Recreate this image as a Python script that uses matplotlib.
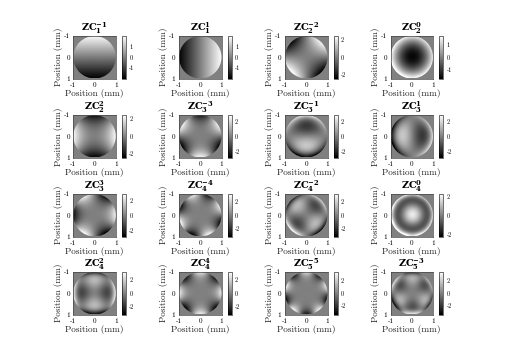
import matplotlib
matplotlib.use('Agg')
import matplotlib.pyplot as plt
from matplotlib.patches import Circle
import numpy as np

plt.rcParams['font.family'] = ['cmr10', 'DejaVu Serif']
plt.rcParams['mathtext.fontset'] = 'dejavuserif'
plt.rcParams['axes.formatter.use_mathtext'] = True

# values, rows run y=-1..1, columns x=-1..1, step 0.2
zc_1_m1 = [[2.0]*11, [1.6]*11, [1.2]*11, [0.8]*11, [0.4]*11, [0.0]*11,
           [-0.4]*11, [-0.8]*11, [-1.2]*11, [-1.6]*11, [-2.0]*11]
zc_1_p1 = [[-2, -1.6, -1.2, -0.8, -0.4, 0, 0.4, 0.8, 1.2, 1.6, 2]]*11
zc_2_m2 = [
    [-4.9, -3.9, -2.9, -2, -1, 0, 1, 2, 2.9, 3.9, 4.9],
    [-3.9, -3.1, -2.4, -1.6, -.8, 0, .8, 1.6, 2.4, 3.1, 3.9],
    [-2.9, -2.4, -1.8, -1.2, -.6, 0, .6, 1.2, 1.8, 2.4, 2.9],
    [-2, -1.6, -1.2, -.8, -.4, 0, .4, .8, 1.2, 1.6, 2],
    [-1, -.8, -.6, -.4, -.2, 0, .2, .4, .6, .8, 1],
    [0, 0, 0, 0, 0, 0, 0, 0, 0, 0, 0],
    [1, .8, .6, .4, .2, 0, -.2, -.4, -.6, -.8, -1],
    [2, 1.6, 1.2, .8, .4, 0, -.4, -.8, -1.2, -1.6, -2],
    [2.9, 2.4, 1.8, 1.2, .6, 0, -.6, -1.2, -1.8, -2.4, -2.9],
    [3.9, 3.1, 2.4, 1.6, .8, 0, -.8, -1.6, -2.4, -3.1, -3.9],
    [4.9, 3.9, 2.9, 2, 1, 0, -1, -2, -2.9, -3.9, -4.9]]
zc_2_p0 = [
    [5.2, 3.9, 3, 2.3, 1.9, 1.7, 1.9, 2.3, 3, 3.9, 5.2],
    [3.9, 2.7, 1.7, 1, .6, .5, .6, 1, 1.7, 2.7, 3.9],
    [3, 1.7, .8, .1, -.3, -.5, -.3, .1, .8, 1.7, 3],
    [2.3, 1, .1, -.6, -1, -1.2, -1, -.6, .1, 1, 2.3],
    [1.9, .6, -.3, -1, -1.5, -1.6, -1.5, -1, -.3, .6, 1.9],
    [1.7, .5, -.5, -1.2, -1.6, -1.7, -1.6, -1.2, -.5, .5, 1.7],
    [1.9, .6, -.3, -1, -1.5, -1.6, -1.5, -1, -.3, .6, 1.9],
    [2.3, 1, .1, -.6, -1, -1.2, -1, -.6, .1, 1, 2.3],
    [3, 1.7, .8, .1, -.3, -.5, -.3, .1, .8, 1.7, 3],
    [3.9, 2.7, 1.7, 1, .6, .5, .6, 1, 1.7, 2.7, 3.9],
    [5.2, 3.9, 3, 2.3, 1.9, 1.7, 1.9, 2.3, 3, 3.9, 5.2]]
zc_2_p2 = [
    [0, -.9, -1.6, -2.1, -2.4, -2.45, -2.4, -2.1, -1.6, -.9, 0],
    [.9, 0, -.7, -1.2, -1.5, -1.6, -1.5, -1.2, -.7, 0, .9],
    [1.6, .7, 0, -.5, -.8, -.9, -.8, -.5, 0, .7, 1.6],
    [2.1, 1.2, .5, 0, -.3, -.4, -.3, 0, .5, 1.2, 2.1],
    [2.4, 1.5, .8, .3, 0, -.1, 0, .3, .8, 1.5, 2.4],
    [2.45, 1.6, .9, .4, .1, 0, .1, .4, .9, 1.6, 2.45],
    [2.4, 1.5, .8, .3, 0, -.1, 0, .3, .8, 1.5, 2.4],
    [2.1, 1.2, .5, 0, -.3, -.4, -.3, 0, .5, 1.2, 2.1],
    [1.6, .7, 0, -.5, -.8, -.9, -.8, -.5, 0, .7, 1.6],
    [.9, 0, -.7, -1.2, -1.5, -1.6, -1.5, -1.2, -.7, 0, .9],
    [0, -.9, -1.6, -2.1, -2.4, -2.45, -2.4, -2.1, -1.6, -.9, 0]]
zc_3_m3 = [
    [5.7, 2.6, .2, -1.5, -2.5, -2.8, -2.5, -1.5, .2, 2.6, 5.7],
    [5.3, 2.9, 1, -.4, -1.2, -1.4, -1.2, -.4, 1, 2.9, 5.3],
    [4.5, 2.6, 1.2, .2, -.4, -.6, -.4, .2, 1.2, 2.6, 4.5],
    [3.2, 2, 1, .4, 0, -.2, 0, .4, 1, 2, 3.2],
    [1.7, 1.1, .6, .2, 0, 0, 0, .2, .6, 1.1, 1.7],
    [0, 0, 0, 0, 0, 0, 0, 0, 0, 0, 0],
    [-1.7, -1.1, -.6, -.2, 0, 0, 0, -.2, -.6, -1.1, -1.7],
    [-3.2, -2, -1, -.4, 0, .2, 0, -.4, -1, -2, -3.2],
    [-4.5, -2.6, -1.2, -.2, .4, .6, .4, -.2, -1.2, -2.6, -4.5],
    [-5.3, -2.9, -1, .4, 1.2, 1.4, 1.2, .4, -1, -2.9, -5.3],
    [-5.7, -2.6, -.2, 1.5, 2.5, 2.8, 2.5, 1.5, -.2, -2.6, -5.7]]
zc_3_m1 = [
    [6, 6, 5.9, 4.2, 3.2, 2.8, 3.2, 4.2, 5.9, 6, 6],
    [6, 4.2, 2.3, .9, .1, -.2, .1, .9, 2.3, 4.2, 6],
    [3.5, 1.7, .3, -.7, -1.4, -1.6, -1.4, -.7, .3, 1.7, 3.5],
    [1.7, .5, -.5, -1.2, -1.6, -1.7, -1.6, -1.2, -.5, .5, 1.7],
    [.6, 0, -.5, -.8, -1, -1.1, -1, -.8, -.5, 0, .6],
    [0, 0, 0, 0, 0, 0, 0, 0, 0, 0, 0],
    [-.6, 0, .5, .8, 1, 1.1, 1, .8, .5, 0, -.6],
    [-1.7, -.5, .5, 1.2, 1.6, 1.7, 1.6, 1.2, .5, -.5, -1.7],
    [-3.5, -1.7, -.3, .7, 1.4, 1.6, 1.4, .7, -.3, -1.7, -3.5],
    [-6, -4.2, -2.3, -.9, -.1, .2, -.1, -.9, -2.3, -4.2, -6],
    [-6, -6, -5.9, -4.2, -3.2, -2.8, -3.2, -4.2, -5.9, -6, -6]]
zc_3_p1 = [
    [-6, -6, -3.5, -1.7, -.6, 0, .6, 1.7, 3.5, 6, 6],
    [-6, -4.2, -1.7, -.5, 0, 0, 0, .5, 1.7, 4.2, 6],
    [-5.9, -2.3, -.3, .5, .5, 0, -.5, -.5, .3, 2.3, 5.9],
    [-4.2, -.9, .7, 1.2, .8, 0, -.8, -1.2, -.7, .9, 4.2],
    [-3.2, -.1, 1.4, 1.6, 1, 0, -1, -1.6, -1.4, .1, 3.2],
    [-2.8, .2, 1.6, 1.7, 1.1, 0, -1.1, -1.7, -1.6, -.2, 2.8],
    [-3.2, -.1, 1.4, 1.6, 1, 0, -1, -1.6, -1.4, .1, 3.2],
    [-4.2, -.9, .7, 1.2, .8, 0, -.8, -1.2, -.7, .9, 4.2],
    [-5.9, -2.3, -.3, .5, .5, 0, -.5, -.5, .3, 2.3, 5.9],
    [-6, -4.2, -1.7, -.5, 0, 0, 0, .5, 1.7, 4.2, 6],
    [-6, -6, -3.5, -1.7, -.6, 0, .6, 1.7, 3.5, 6, 6]]
zc_3_p3 = [
    [5.7, 5.3, 4.5, 3.2, 1.7, 0, -1.7, -3.2, -4.5, -5.3, -5.7],
    [2.6, 2.9, 2.6, 2, 1.1, 0, -1.1, -2, -2.6, -2.9, -2.6],
    [.2, 1, 1.2, 1, .6, 0, -.6, -1, -1.2, -1, -.2],
    [-1.5, -.4, .2, .4, .2, 0, -.2, -.4, -.2, .4, 1.5],
    [-2.5, -1.2, -.4, 0, 0, 0, 0, 0, .4, 1.2, 2.5],
    [-2.8, -1.4, -.6, -.2, 0, 0, 0, .2, .6, 1.4, 2.8],
    [-2.5, -1.2, -.4, 0, 0, 0, 0, 0, .4, 1.2, 2.5],
    [-1.5, -.4, .2, .4, .2, 0, -.2, -.4, -.2, .4, 1.5],
    [.2, 1, 1.2, 1, .6, 0, -.6, -1, -1.2, -1, -.2],
    [2.6, 2.9, 2.6, 2, 1.1, 0, -1.1, -2, -2.6, -2.9, -2.6],
    [5.7, 5.3, 4.5, 3.2, 1.7, 0, -1.7, -3.2, -4.5, -5.3, -5.7]]
zc_4_m4 = [
    [0, 3.6, 4.9, 4.2, 2.4, 0, -2.4, -4.2, -4.9, -3.6, 0],
    [-3.6, 0, 1.7, 1.9, 1.2, 0, -1.2, -1.9, -1.7, 0, 3.6],
    [-4.9, -1.7, 0, .6, .5, 0, -.5, -.6, 0, 1.7, 4.9],
    [-4.2, -1.9, -.6, 0, .1, 0, -.1, 0, .6, 1.9, 4.2],
    [-2.4, -1.2, -.5, -.1, 0, 0, 0, .1, .5, 1.2, 2.4],
    [0, 0, 0, 0, 0, 0, 0, 0, 0, 0, 0],
    [2.4, 1.2, .5, .1, 0, 0, 0, -.1, -.5, -1.2, -2.4],
    [4.2, 1.9, .6, 0, -.1, 0, .1, 0, -.6, -1.9, -4.2],
    [4.9, 1.7, 0, -.6, -.5, 0, .5, .6, 0, -1.7, -4.9],
    [3.6, 0, -1.7, -1.9, -1.2, 0, 1.2, 1.9, 1.7, 0, -3.6],
    [0, -3.6, -4.9, -4.2, -2.4, 0, 2.4, 4.2, 4.9, 3.6, 0]]
zc_4_m2 = [
    [-6, -6, -6, -4.1, -1.5, 0, 1.5, 4.1, 6, 6, 6],
    [-6, -6, -3, -.4, .3, 0, -.3, .4, 3, 6, 6],
    [-6, -3, .3, 1.4, 1.1, 0, -1.1, -1.4, -.3, 3, 6],
    [-4.1, -.4, 1.4, 1.7, 1.1, 0, -1.1, -1.7, -1.4, .4, 4.1],
    [-1.5, .3, 1.1, 1.1, .7, 0, -.7, -1.1, -1.1, -.3, 1.5],
    [0, 0, 0, 0, 0, 0, 0, 0, 0, 0, 0],
    [1.5, -.3, -1.1, -1.1, -.7, 0, .7, 1.1, 1.1, .3, -1.5],
    [4.1, .4, -1.4, -1.7, -1.1, 0, 1.1, 1.7, 1.4, -.4, -4.1],
    [6, 3, -.3, -1.4, -1.1, 0, 1.1, 1.4, .3, -3, -6],
    [6, 6, 3, .4, -.3, 0, .3, -.4, -3, -6, -6],
    [6, 6, 6, 4.1, 1.5, 0, -1.5, -4.1, -6, -6, -6]]
zc_4_p0 = [
    [5, 5, 5, 4.7, 2.8, 2.2, 2.8, 4.7, 5, 5, 5],
    [5, 5, 2.2, .1, -.7, -.85, -.7, .1, 2.2, 5, 5],
    [5, 2.2, -.5, -1.1, -1, -.85, -1, -1.1, -.5, 2.2, 5],
    [4.7, .1, -1.1, -.7, .1, .4, .1, -.7, -1.1, .1, 4.7],
    [2.8, -.7, -1, .1, 1.25, 1.7, 1.25, .1, -1, -.7, 2.8],
    [2.2, -.85, -.85, .4, 1.7, 2.2, 1.7, .4, -.85, -.85, 2.2],
    [2.8, -.7, -1, .1, 1.25, 1.7, 1.25, .1, -1, -.7, 2.8],
    [4.7, .1, -1.1, -.7, .1, .4, .1, -.7, -1.1, .1, 4.7],
    [5, 2.2, -.5, -1.1, -1, -.85, -1, -1.1, -.5, 2.2, 5],
    [5, 5, 2.2, .1, -.7, -.85, -.7, .1, 2.2, 5, 5],
    [5, 5, 5, 4.7, 2.8, 2.2, 2.8, 4.7, 5, 5, 5]]
zc_4_p2 = [
    [0, -4.1, -4.9, -4.4, -3.5, -3.2, -3.5, -4.4, -4.9, -4.1, 0],
    [4.1, 0, -.9, -.3, .5, .9, .5, -.3, -.9, 0, 4.1],
    [4.9, .9, 0, .6, 1.4, 1.8, 1.4, .6, 0, .9, 4.9],
    [4.4, .3, -.6, 0, .8, 1.2, .8, 0, -.6, .3, 4.4],
    [3.5, -.5, -1.4, -.8, 0, .4, 0, -.8, -1.4, -.5, 3.5],
    [3.2, -.9, -1.8, -1.2, -.4, 0, -.4, -1.2, -1.8, -.9, 3.2],
    [3.5, -.5, -1.4, -.8, 0, .4, 0, -.8, -1.4, -.5, 3.5],
    [4.4, .3, -.6, 0, .8, 1.2, .8, 0, -.6, .3, 4.4],
    [4.9, .9, 0, .6, 1.4, 1.8, 1.4, .6, 0, .9, 4.9],
    [4.1, 0, -.9, -.3, .5, .9, .5, -.3, -.9, 0, 4.1],
    [0, -4.1, -4.9, -4.4, -3.5, -3.2, -3.5, -4.4, -4.9, -4.1, 0]]
zc_4_p4 = [
    [-5, -5, -3.3, .2, 2.4, 3.2, 2.4, .2, -3.3, -5, -5],
    [-5, -5.2, -2.7, -.6, .8, 1.3, .8, -.6, -2.7, -5.2, -5],
    [-3.3, -2.7, -1.6, -.6, .1, .4, .1, -.6, -1.6, -2.7, -3.3],
    [.2, -.6, -.6, -.3, 0, .1, 0, -.3, -.6, -.6, .2],
    [2.4, .8, .1, 0, 0, 0, 0, 0, .1, .8, 2.4],
    [3.2, 1.3, .4, .1, 0, 0, 0, .1, .4, 1.3, 3.2],
    [2.4, .8, .1, 0, 0, 0, 0, 0, .1, .8, 2.4],
    [.2, -.6, -.6, -.3, 0, .1, 0, -.3, -.6, -.6, .2],
    [-3.3, -2.7, -1.6, -.6, .1, .4, .1, -.6, -1.6, -2.7, -3.3],
    [-5, -5.2, -2.7, -.6, .8, 1.3, .8, -.6, -2.7, -5.2, -5],
    [-5, -5, -3.3, .2, 2.4, 3.2, 2.4, .2, -3.3, -5, -5]]
zc_5_m5 = [
    [-5, -5, -5, -1.6, 2.1, 3.5, 2.1, -1.6, -5, -5, -5],
    [-2.7, -4.5, -3.4, -1.3, .5, 1.1, .5, -1.3, -3.4, -4.5, -2.7],
    [3.2, -.2, -1.1, -.7, 0, .3, 0, -.7, -1.1, -.2, 3.2],
    [4.7, 1.5, .1, -.1, 0, 0, 0, -.1, .1, 1.5, 4.7],
    [3.2, 1.2, .3, 0, 0, 0, 0, 0, .3, 1.2, 3.2],
    [0, 0, 0, 0, 0, 0, 0, 0, 0, 0, 0],
    [-3.2, -1.2, -.3, 0, 0, 0, 0, 0, -.3, -1.2, -3.2],
    [-4.7, -1.5, -.1, .1, 0, 0, 0, .1, -.1, -1.5, -4.7],
    [-3.2, .2, 1.1, .7, 0, -.3, 0, .7, 1.1, .2, -3.2],
    [2.7, 4.5, 3.4, 1.3, -.5, -1.1, -.5, 1.3, 3.4, 4.5, 2.7],
    [5, 5, 5, 1.6, -2.1, -3.5, -2.1, 1.6, 5, 5, 5]]
zc_5_m3 = [
    [5, 5, .8, -3.2, -3.7, -3.5, -3.7, -3.2, .8, 5, 5],
    [5, 5, 1.2, 0, .9, 1.4, .9, 0, 1.2, 5, 5],
    [5, 3.3, -.6, -.3, 1, 1.6, 1, -.3, -.6, 3.3, 5],
    [5, 0, -1.8, -1.1, .2, .7, .2, -1.1, -1.8, 0, 5],
    [2.5, -.8, -1.4, -.9, -.3, .1, -.3, -.9, -1.4, -.8, 2.5],
    [0, 0, 0, 0, 0, 0, 0, 0, 0, 0, 0],
    [-2.5, .8, 1.4, .9, .3, -.1, .3, .9, 1.4, .8, -2.5],
    [-5, 0, 1.8, 1.1, -.2, -.7, -.2, 1.1, 1.8, 0, -5],
    [-5, -3.3, .6, .3, -1, -1.6, -1, .3, .6, -3.3, -5],
    [-5, -5, -1.2, 0, -.9, -1.4, -.9, 0, -1.2, -5, -5],
    [-5, -5, -.8, 3.2, 3.7, 3.5, 3.7, 3.2, -.8, -5, -5]]

titles = ['1}^{-1', '1}^{1', '2}^{-2', '2}^{0', '2}^{2', '3}^{-3', '3}^{-1', '3}^{1',
          '3}^{3', '4}^{-4', '4}^{-2', '4}^{0', '4}^{2', '4}^{4', '5}^{-5', '5}^{-3']
panels = [zc_1_m1, zc_1_p1, zc_2_m2, zc_2_p0, zc_2_p2, zc_3_m3, zc_3_m1, zc_3_p1,
          zc_3_p3, zc_4_m4, zc_4_m2, zc_4_p0, zc_4_p2, zc_4_p4, zc_5_m5, zc_5_m3]
limits = [2, 2, 2.45, 1.73, 2.45, 2.83, 2.83, 2.83,
          2.83, 3.16, 3.16, 2.24, 3.16, 3.16, 3.46, 3.46]
bar_ticks = [[-1, 0, 1], [-1, 0, 1], [-2, 0, 2], [-1, 0, 1]] + [[-2, 0, 2]]*12

W, H = 512.0, 360.0
lefts = [73.3, 179, 285, 390.5]
tops = [36, 115, 194, 272]
size = 42.5

fig = plt.figure(figsize=(W/100, H/100), dpi=100)

for i in range(16):
    r, c = divmod(i, 4)
    ax = fig.add_axes([lefts[c]/W, 1-(tops[r]+size)/H, size/W, size/H])
    ax.set_facecolor('#808080')
    im = ax.imshow(np.array(panels[i], dtype=float), cmap='gray', vmin=-limits[i], vmax=limits[i],
                   extent=(-1.1, 1.1, 1.1, -1.1), interpolation='bicubic')
    ax.set_xlim(-1, 1)
    ax.set_ylim(1, -1)
    im.set_clip_path(Circle((0, 0), 1, transform=ax.transData))
    ax.set_xticks([-1, 0, 1], ['-1', '0', '1'])
    ax.set_yticks([-1, 0, 1], ['-1', '0', '1'])
    ax.tick_params(labelsize=5.2, length=0, pad=2.5)
    ax.set_xlabel('Position (mm)', fontsize=6.6, labelpad=1.2, color='#222222')
    ax.set_ylabel('Position (mm)', fontsize=6.6, labelpad=0.8, color='#222222')
    ax.set_title(r'$\mathbf{ZC_{' + titles[i] + r'}}$', fontsize=7, pad=1.5)
    for s in ax.spines.values():
        s.set_linewidth(0.5)
        s.set_color('#444444')

    cax = fig.add_axes([(lefts[c]+48.5)/W, 1-(tops[r]+size)/H, 4/W, size/H])
    cb = fig.colorbar(im, cax=cax)
    cb.set_ticks(bar_ticks[i], labels=[str(t) for t in bar_ticks[i]])
    cb.ax.tick_params(labelsize=4.5, length=0, pad=2.5)
    cb.outline.set_linewidth(0.4)

fig.savefig('out.png', dpi=100)
